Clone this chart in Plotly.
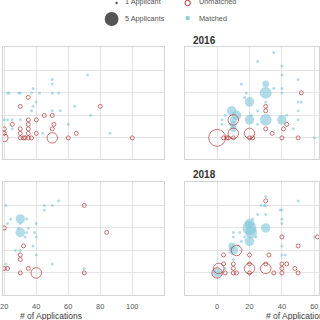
import math
import plotly.graph_objects as go

# ---- data: (applications, y-level, number of applicants) ----
panel_years = ["2015", "2016", "2017", "2018"]

matched_2015 = [(22,10,1),(23,10,1),(29,10,1),(30,10,1),(37,10,1),(42,10,1),(50,10,1),(54,10,1),
                (50,13,1),(50,12,1),(72,14,1),(38,11,1),(40,8,1),(38,7,1),(37,6,1),(64,7,1),
                (50,6,1),(55,6,1),(74,5,1),(22,4,1),(25,4,1),(30,4,1),(20,4,1),(60,3,1),
                (25,2,1),(44,1,1),(86,1,1)]
unmatched_2015 = [(35,9,1),(30,7,1),(80,7,1),(45,5,1),(50,5,1),(35,4,1),(40,4,1),(25,3,1),
                  (35,3,1),(51,3,1),(30,2,1),(35,2,1),(50,2,1),(20,2,1),(30,1,1),(35,1,1),
                  (40,1,1),(65,1,1),(20,1,1),(30,0,1),(32,0,1),(33,0,1),(35,0,1),(37,0,1),
                  (50,0,3),(60,0,1),(100,0,1),(20,0,2)]

matched_2016 = [(35,19,1),(25,17,1),(40,16,1),(40,14,1),(40,11,1),(40,10,1),(50,13,1),(30,12,2),
                (30,10,4),(35,11,1),(15,12,1),(18,10,1),(17,9,1),(20,8,3),(30,8,1),(50,8,1),
                (52,8,1),(9,6,3),(12,5,3),(5,5,1),(20,4,3),(21,5,1),(25,6,1),(30,4,4),(40,4,3),
                (43,5,1),(50,6,1),(50,4,1),(3,4,1),(3,3,1),(8,3,1),(10,3,2),(10,2,2),(25,3,1),
                (47,2,1),(60,0,1),(10,4,2)]
unmatched_2016 = [(0,0,6),(4,0,1),(6,0,1),(7,0,1),(10,0,1),(10,1,3),(10,4,3),(20,1,3),(20,0,1),
                  (22,0,1),(30,7,1),(30,6,1),(30,2,1),(34,1,1),(40,0,1),(41,2,1),(43,3,1),
                  (50,0,1),(52,10,1)]

matched_2017 = [(21,15,1),(45,15,1),(50,15,1),(54,16,1),(45,14,1),(30,12,3),(34,12,1),(24,12,1),
                (22,11,1),(30,11,1),(40,11,1),(30,9,3),(29,10,1),(35,10,1),(34,9,1),(39,9,1),
                (40,8,1),(33,8,1),(38,6,1),(27,5,1),(30,5,1),(40,4,1),(50,2,1),(70,1,1),(21,2,1)]
unmatched_2017 = [(70,15,1),(84,9,1),(20,10,1),(32,6,1),(30,4,1),(30,3,1),(22,1,1),(20,1,1),
                  (35,1,1),(30,0,1),(40,0,3),(70,0,1)]

matched_2018 = [(30,17,1),(30,15,1),(29,15,1),(27,15,1),(50,16,1),(39,14,1),(40,14,1),(40,12,1),
                (40,11,1),(25,13,1),(30,13,1),(22,12,1),(20,11,3),(20,10,5),(21,9,4),(30,10,3),
                (10,9,1),(14,9,1),(10,8,1),(17,8,1),(24,8,1),(20,7,3),(15,7,1),(13,6,1),(9,6,2),
                (10,5,3),(60,8,1),(40,6,1),(40,4,1),(42,4,1),(10,3,1),(5,1,1),(0,0,3)]
unmatched_2018 = [(12,5,3),(4,4,1),(20,4,1),(32,4,1),(40,8,1),(50,6,1),(62,8,1),(4,2,1),(10,2,1),
                  (20,2,1),(30,2,1),(40,2,1),(43,2,1),(1,1,3),(10,1,1),(20,1,3),(30,1,3),(40,1,1),
                  (48,1,1),(5,0,1),(10,0,1),(12,0,1),(20,0,1),(35,0,1),(40,0,1),(50,0,1),(30,16,1),
                  (0,0,3)]

matched = [matched_2015, matched_2016, matched_2017, matched_2018]
unmatched = [unmatched_2015, unmatched_2016, unmatched_2017, unmatched_2018]

x_ticks = [0, 20, 40, 60, 80, 100]
x_grid = [0, 20, 40, 60, 80, 100, 120]
x_title = "# of Applications"
legend_labels = ["1 Applicant", "5 Applicants", "Unmatched", "Matched"]

BLUE = "rgba(125,198,216,0.85)"
RED = "#b43a3a"
GRID = "#e4e4e4"
BORDER = "#d4d4d4"
FONT = "Liberation Sans, Arial, sans-serif"
W = H = 320


def diam(n):
    return 3 + 11 * (math.sqrt(n) - 1) / (math.sqrt(5) - 1)


fig = go.Figure()
for i in range(4):
    ax = "" if i == 0 else str(i + 1)
    m = matched[i]
    u = unmatched[i]
    fig.add_trace(go.Scatter(
        x=[p[0] for p in m], y=[p[1] for p in m], mode="markers",
        marker=dict(size=[diam(p[2]) for p in m], color=BLUE, line=dict(width=0)),
        xaxis="x" + ax, yaxis="y" + ax, showlegend=False, hoverinfo="skip"))
    fig.add_trace(go.Scatter(
        x=[p[0] for p in u], y=[p[1] for p in u], mode="markers",
        marker=dict(size=[diam(p[2]) + 1 for p in u], symbol="circle-open",
                    color=RED, line=dict(width=1, color=RED)),
        xaxis="x" + ax, yaxis="y" + ax, showlegend=False, hoverinfo="skip"))


def px_x(p):
    return p / W


def px_y(p):
    return (H - p) / H


left_dom = [0, px_x(163)]
right_dom = [px_x(184), 1]
top_dom = [px_y(159), px_y(47)]
bot_dom = [px_y(295), px_y(182)]

xcommon = dict(showgrid=True, gridcolor=GRID, gridwidth=1, zeroline=False,
               showline=True, linecolor=BORDER, linewidth=1, mirror=True,
               tickfont=dict(family=FONT, size=7.5, color="#555555"))
ycommon = dict(dtick=5, tick0=0, showgrid=True, gridcolor=GRID, gridwidth=1, zeroline=False,
               showline=True, linecolor=BORDER, linewidth=1, mirror=True, showticklabels=False)

lrange = [19.2, 119.8]
rrange = [-20, 62.9]
fig.update_layout(
    xaxis=dict(domain=left_dom, range=lrange, anchor="y", tickvals=x_grid,
               showticklabels=False, **xcommon),
    yaxis=dict(domain=top_dom, range=[-4.7, 20.2], anchor="x", **ycommon),
    xaxis2=dict(domain=right_dom, range=rrange, anchor="y2", tickvals=x_grid,
                showticklabels=False, **xcommon),
    yaxis2=dict(domain=top_dom, range=[-4.7, 20.2], anchor="x2", **ycommon),
    xaxis3=dict(domain=left_dom, range=lrange, anchor="y3", tickvals=x_ticks, ticks="outside",
                ticklen=4, tickcolor="rgba(0,0,0,0)", ticklabeloverflow="allow", **xcommon),
    yaxis3=dict(domain=bot_dom, range=[-4.9, 20.2], anchor="x3", **ycommon),
    xaxis4=dict(domain=right_dom, range=rrange, anchor="y4", tickvals=x_ticks, ticks="outside",
                ticklen=4, tickcolor="rgba(0,0,0,0)", ticklabeloverflow="allow", **xcommon),
    yaxis4=dict(domain=bot_dom, range=[-4.9, 20.2], anchor="x4", **ycommon),
    width=W, height=H, margin=dict(l=0, r=0, t=0, b=0),
    paper_bgcolor="white", plot_bgcolor="white",
)

ann = []
# panel titles visible in the crop (right column)
for yr, xp, yp in [(panel_years[1], 190, 40), (panel_years[3], 190, 174)]:
    ann.append(dict(text="<b>" + yr + "</b>", x=px_x(xp), y=px_y(yp), xref="paper", yref="paper",
                    xanchor="left", yanchor="middle", showarrow=False,
                    font=dict(family=FONT, size=10, color="#333333")))
# axis titles
for xc in [49, 298]:
    ann.append(dict(text=x_title, x=px_x(xc), y=px_y(316), xref="paper", yref="paper",
                    xanchor="center", yanchor="middle", showarrow=False,
                    font=dict(family=FONT, size=8.5, color="#3a3a3a")))
# legend texts
for lab, xp, yp in [(legend_labels[0], 122, 2), (legend_labels[1], 122, 19),
                    (legend_labels[2], 196, 2), (legend_labels[3], 196, 18)]:
    ann.append(dict(text=lab, x=px_x(xp), y=px_y(yp), xref="paper", yref="paper",
                    xanchor="left", yanchor="middle", showarrow=False,
                    font=dict(family=FONT, size=7.3, color="#555555")))
fig.update_layout(annotations=ann)


def circle(cx, cy, d, fill, line):
    r = d / 2
    return dict(type="circle", xref="paper", yref="paper",
                x0=px_x(cx - r), x1=px_x(cx + r), y0=px_y(cy + r), y1=px_y(cy - r),
                fillcolor=fill, line=line)


shapes = [
    circle(115, 3, diam(1) * 0.8, "#555555", dict(width=0)),
    circle(110, 19, diam(5), "#555555", dict(width=0)),
    circle(187, 3, 5.5, "rgba(0,0,0,0)", dict(width=1, color=RED)),
    circle(187, 18, 4.5, BLUE, dict(width=0)),
]
fig.update_layout(shapes=shapes)

fig.write_html("out.html")
